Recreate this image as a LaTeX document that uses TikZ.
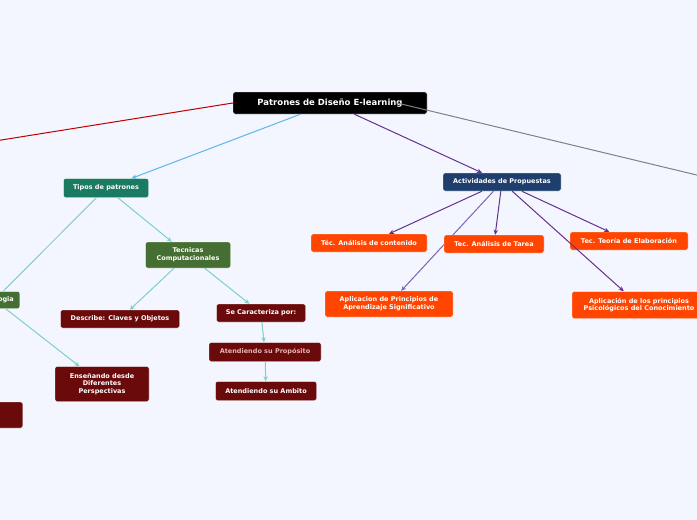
\documentclass[tikz,border=0pt]{standalone}
\usepackage{fontspec}
\setmainfont{DejaVu Sans}
\usetikzlibrary{arrows.meta}
\definecolor{bg}{HTML}{F3F6FE}
\definecolor{teal}{HTML}{1A7A62}
\definecolor{grn}{HTML}{456F32}
\definecolor{dred}{HTML}{6B0A0A}
\definecolor{navy}{HTML}{1E3F6E}
\definecolor{org}{HTML}{FF4500}
\definecolor{lblue}{HTML}{5BB8E6}
\definecolor{lteal}{HTML}{7ECFCB}
\definecolor{purp}{HTML}{65318F}
\definecolor{lpurp}{HTML}{7E62B5}
\definecolor{pinktxt}{HTML}{E8B4B4}
\begin{document}
\begin{tikzpicture}[x=1pt,y=-1pt,
 box/.style={rounded corners=2pt,text=white,font=\bfseries\fontsize{6.5}{7.8}\selectfont,align=center,inner sep=0pt,draw=white,line width=0.4pt},
 con/.style={line width=1pt,-{Stealth[length=5pt,width=4.5pt]}},
 plain/.style={line width=1pt}]
\fill[bg] (0,0) rectangle (697,520);
\useasboundingbox (0,0) rectangle (697,520);
\clip (0,0) rectangle (697,520);
\node[box,fill=black,font=\bfseries\fontsize{8.5}{10}\selectfont,minimum width=194,minimum height=22] (root) at (330,103) {Patrones de Diseño E-learning};
\coordinate (offL) at (-5,141);
\coordinate (offR) at (705,177);
\node[box,fill=teal,minimum width=85,minimum height=19] (tipos) at (106,188) {Tipos de patrones};
\node[box,fill=grn,minimum width=85,minimum height=26] (tec) at (188,255) {Tecnicas\\Computacionales};
\node[box,fill=grn,minimum height=17,inner xsep=6pt,anchor=east] (ped) at (20,300) {Pedagogia};
\node[box,fill=dred,minimum width=119,minimum height=18] (desc) at (120,319) {Describe: Claves y Objetos};
\node[box,fill=dred,minimum width=89,minimum height=18] (se) at (261,313) {Se Caracteriza por:};
\node[box,fill=dred,minimum width=112,minimum height=19,text=pinktxt] (prop) at (265,352) {Atendiendo su Propósito};
\node[box,fill=dred,minimum width=101,minimum height=19] (amb) at (266,391) {Atendiendo su Ambito};
\node[box,fill=dred,minimum width=94,minimum height=35] (ens) at (102,384) {Enseñando desde\\Diferentes\\Perspectivas};
\node[box,fill=dred,minimum width=60,minimum height=26,anchor=east] (dl) at (23,415) {};
\node[box,fill=navy,minimum width=118,minimum height=18] (act) at (502,182) {Actividades de Propuestas};
\node[box,fill=org,minimum width=116,minimum height=18] (cont) at (369,243) {Téc. Análisis de contenido};
\node[box,fill=org,minimum width=128,minimum height=26] (sig) at (389,304) {Aplicacion de Principios de\\Aprendizaje Significativo};
\draw[con,lpurp] (act) -- (sig);
\node[box,fill=org,minimum width=100,minimum height=18] (tarea) at (494,244) {Tec. Análisis de Tarea};
\node[box,fill=org,minimum width=118,minimum height=18] (elab) at (629,241) {Tec. Teoría de Elaboración};
\node[box,fill=org,minimum width=134,minimum height=27] (psi) at (639,305) {Aplicación de los principios\\Psicológicos del Conocimiento};
\draw[plain,red!75!black] (root.west) -- (offL);
\draw[plain,gray] (root.east) ++(-30,0) -- (offR);
\draw[con,lblue] (root) -- (tipos);
\draw[con,purp] (root) -- (act);
\draw[plain,lteal] (tipos) -- (ped);
\draw[con,lteal] (tipos) -- (tec);
\draw[con,lteal] (tec) -- (desc);
\draw[con,lteal] (tec) -- (se);
\draw[con,lteal] (se) -- (prop);
\draw[con,lteal] (prop) -- (amb);
\draw[con,lteal] (ped) -- (ens);
\draw[con,purp] (act) -- (cont);
\draw[con,purp] (act) -- (tarea);
\draw[con,purp] (act) -- (elab);
\draw[con,purp] (act) -- (psi);
\end{tikzpicture}
\end{document}
